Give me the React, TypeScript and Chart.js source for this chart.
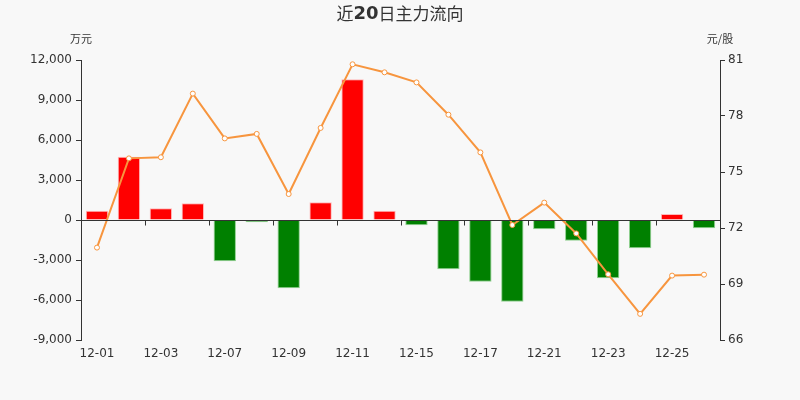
import React, { useEffect, useRef } from "react";
import { Chart, registerables } from "chart.js";

Chart.register(...registerables);

const categories = [
  "12-01", "12-02", "12-03", "12-04", "12-07", "12-08", "12-09", "12-10", "12-11", "12-14",
  "12-15", "12-16", "12-17", "12-18", "12-21", "12-22", "12-23", "12-24", "12-25", "12-26",
];
const mainFlow = [
  700, 4750, 880, 1250, -3100, -160, -5120, 1330, 10550, 700,
  -400, -3700, -4625, -6125, -700, -1550, -4375, -2125, 450, -625,
];
const price = [
  70.95, 75.73, 75.79, 79.2, 76.8, 77.04, 73.82, 77.36, 80.77, 80.34,
  79.8, 78.07, 76.05, 72.16, 73.36, 71.71, 69.52, 67.4, 69.45, 69.5,
];
const leftTicks = { min: -9000, max: 12000, step: 3000 };
const rightTicks = { min: 66, max: 81, step: 3 };
const titleParts = [
  { text: "近", bold: false },
  { text: "20", bold: true },
  { text: "日主力流向", bold: false },
];
const leftUnit = "万元";
const rightUnit = "元/股";

const FONT = "'DejaVu Sans', 'Noto Sans CJK SC', sans-serif";
const CJK = "'Noto Sans CJK SC', 'DejaVu Sans', sans-serif";

const decorPlugin = {
  id: "decor",
  afterDraw(chart: any) {
    const ctx = chart.ctx;
    const { x, y, y1 } = chart.scales;
    ctx.save();
    // zero line with tick marks
    const zeroY = Math.round(y.getPixelForValue(0)) + 0.5;
    ctx.strokeStyle = "#333";
    ctx.lineWidth = 1;
    ctx.beginPath();
    ctx.moveTo(chart.chartArea.left, zeroY);
    ctx.lineTo(chart.chartArea.right, zeroY);
    const half = (x.getPixelForValue(1) - x.getPixelForValue(0)) / 2;
    for (let i = 0; i <= categories.length; i += 2) {
      const px = Math.round(x.getPixelForValue(i) - half) + 0.5;
      ctx.moveTo(px, zeroY);
      ctx.lineTo(px, zeroY + 5);
    }
    ctx.stroke();

    // title
    ctx.fillStyle = "#333";
    ctx.textBaseline = "middle";
    ctx.textAlign = "left";
    const fonts = titleParts.map((p) => (p.bold ? `bold 18px ${FONT}` : `17px ${CJK}`));
    let total = 0;
    const widths = titleParts.map((p, i) => {
      ctx.font = fonts[i];
      const w = ctx.measureText(p.text).width;
      total += w;
      return w;
    });
    let cx = chart.width / 2 - total / 2;
    titleParts.forEach((p, i) => {
      ctx.font = fonts[i];
      ctx.fillText(p.text, cx, 14);
      cx += widths[i];
    });

    // unit labels
    ctx.font = `11px ${CJK}`;
    ctx.textAlign = "center";
    ctx.fillText(leftUnit, y.right, 39);
    ctx.fillText(rightUnit, y1.left, 39);
    ctx.restore();
  },
};

export default function App() {
  const ref = useRef<HTMLCanvasElement>(null);
  useEffect(() => {
    document.body.style.margin = "0";
    document.body.style.background = "#f8f8f8";
    const chart = new Chart(ref.current as HTMLCanvasElement, {
      type: "bar",
      data: {
        labels: categories,
        datasets: [
          {
            type: "line",
            label: "price",
            data: price,
            yAxisID: "y1",
            borderColor: "#f7953e",
            borderWidth: 2,
            pointRadius: 2.5,
            pointBackgroundColor: "#ffffff",
            pointBorderColor: "#f7953e",
            pointBorderWidth: 1,
            tension: 0,
            order: 0,
          } as any,
          {
            type: "bar",
            label: "flow",
            data: mainFlow,
            yAxisID: "y",
            backgroundColor: mainFlow.map((v) => (v >= 0 ? "#ff0000" : "#008000")),
            borderColor: mainFlow.map((v) => (v >= 0 ? "#ffb8b8" : "#90d090")),
            borderWidth: 1,
            categoryPercentage: 1,
            barPercentage: 0.7,
            order: 1,
          },
        ],
      },
      options: {
        animation: false,
        responsive: false,
        maintainAspectRatio: false,
        layout: { padding: { top: 60, left: 0, right: 0, bottom: 0 } },
        plugins: { legend: { display: false }, tooltip: { enabled: false }, title: { display: false } },
        scales: {
          x: {
            offset: true,
            grid: { display: false, drawTicks: false },
            border: { display: false },
            ticks: {
              color: "#333",
              font: { family: FONT, size: 12 },
              padding: 7,
              autoSkip: false,
              maxRotation: 0,
              callback: (v: any, i: number) => (i % 2 === 0 ? categories[i] : ""),
            },
            afterFit: (s: any) => {
              s.height = 60;
            },
          },
          y: {
            position: "left",
            min: leftTicks.min,
            max: leftTicks.max,
            grid: { drawOnChartArea: false, tickLength: 5, color: "#333" },
            border: { display: true, color: "#333" },
            ticks: {
              stepSize: leftTicks.step,
              color: "#333",
              font: { family: FONT, size: 12 },
              padding: 4,
              callback: (v: any) => Number(v).toLocaleString("en-US"),
            },
            afterFit: (s: any) => {
              s.width = 81;
            },
          },
          y1: {
            position: "right",
            min: rightTicks.min,
            max: rightTicks.max,
            grid: { drawOnChartArea: false, tickLength: 5, color: "#333" },
            border: { display: true, color: "#333" },
            ticks: {
              stepSize: rightTicks.step,
              color: "#333",
              font: { family: FONT, size: 12 },
              padding: 3,
            },
            afterFit: (s: any) => {
              s.width = 80;
            },
          },
        },
      },
      plugins: [decorPlugin],
    });
    return () => chart.destroy();
  }, []);
  return (
    <div style={{ width: 800, height: 400, background: "#f8f8f8" }}>
      <canvas ref={ref} width={800} height={400} style={{ display: "block" }} />
    </div>
  );
}
